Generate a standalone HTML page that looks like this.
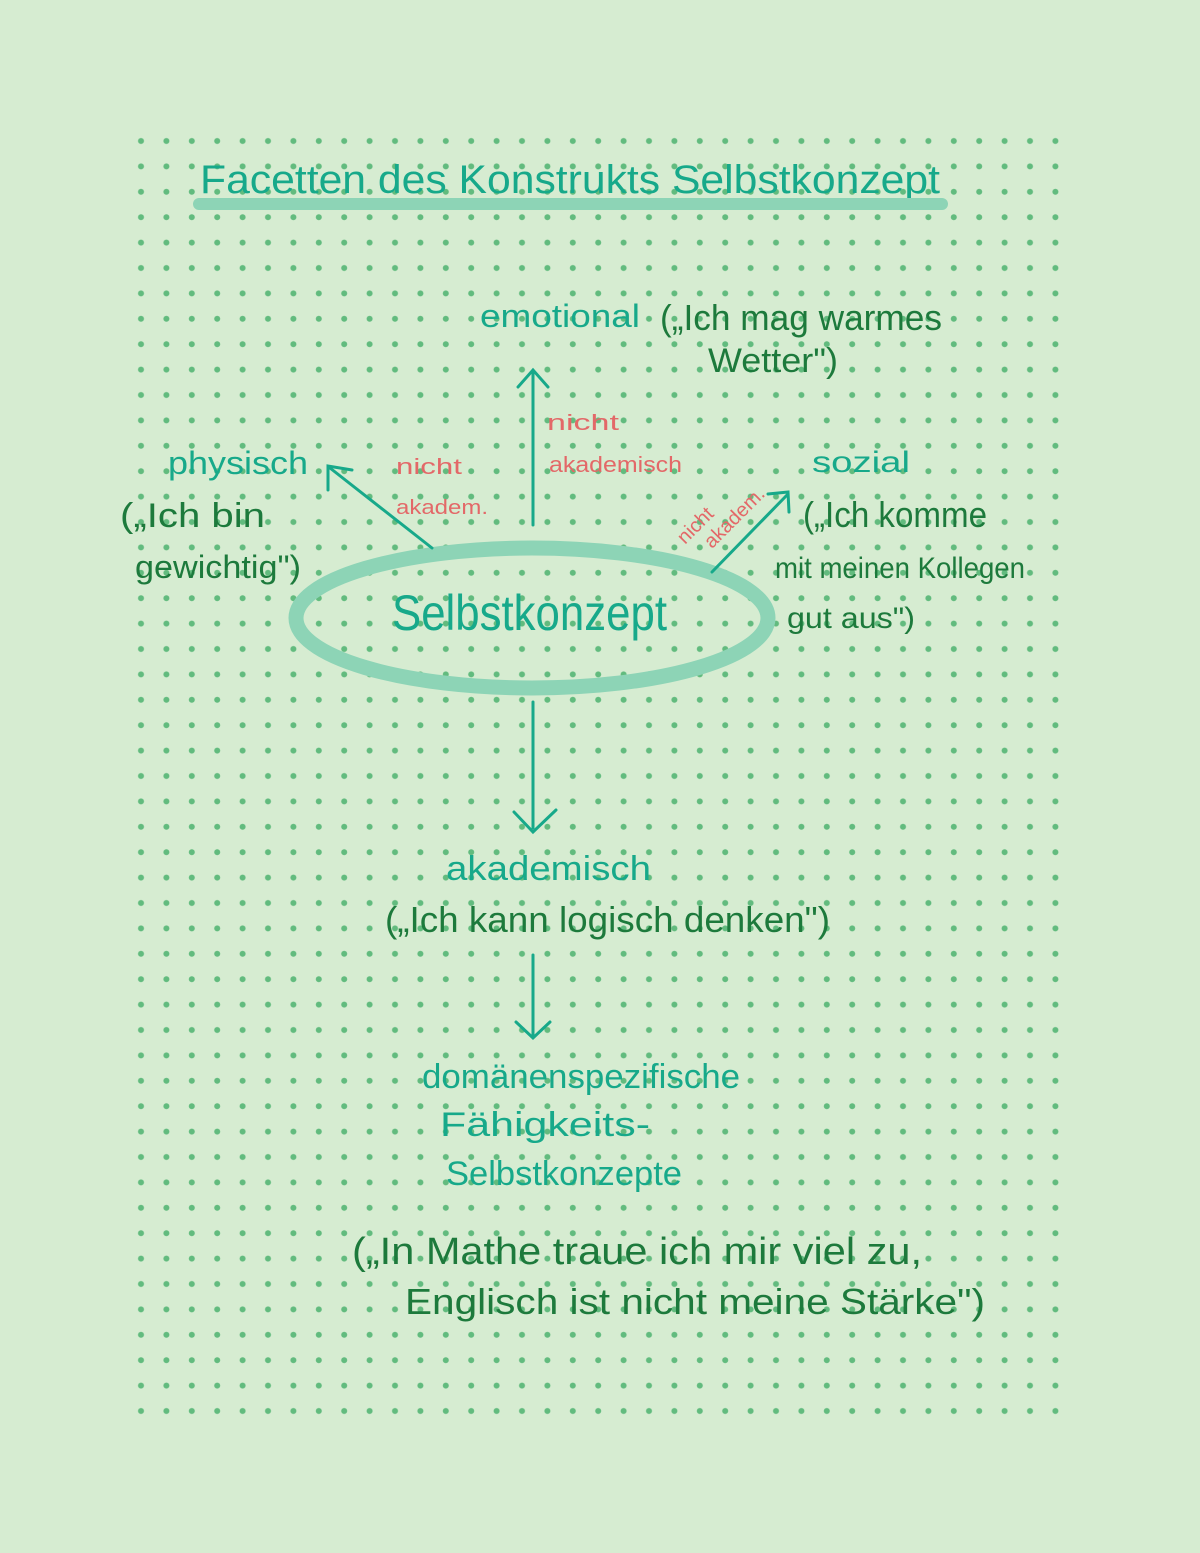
<!DOCTYPE html>
<html><head><meta charset="utf-8"><style>
html,body{margin:0;padding:0;background:#d6ecd1;}
svg{display:block}
text{font-family:"Liberation Sans",sans-serif;}
.t{fill:#17a98a}.g{fill:#1d7a3c}.r{fill:#e36868}
</style></head><body>
<svg width="1200" height="1553" viewBox="0 0 1200 1553" xmlns="http://www.w3.org/2000/svg">
<defs><pattern id="d" x="128.3" y="128.3" width="25.4" height="25.4" patternUnits="userSpaceOnUse"><circle cx="12.7" cy="12.7" r="3" fill="#62bb7e"/></pattern></defs>
<rect width="1200" height="1553" fill="#d6ecd1"/>
<rect x="128" y="128" width="940" height="1296" fill="url(#d)"/>
<!-- title -->
<text x="200" y="193" class="t" font-size="40" textLength="740" lengthAdjust="spacingAndGlyphs">Facetten des Konstrukts Selbstkonzept</text>
<rect x="193" y="198" width="755" height="12" rx="6" fill="#8dd4b6"/>
<!-- ellipse -->
<ellipse cx="532" cy="618" rx="236" ry="70" fill="none" stroke="#8dd4b6" stroke-width="15"/>
<text x="392" y="630" class="t" font-size="50" textLength="275" lengthAdjust="spacingAndGlyphs">Selbstkonzept</text>
<!-- arrows -->
<g stroke="#17a98a" stroke-width="3" fill="none" stroke-linecap="round">
<line x1="533" y1="525" x2="533" y2="372"/><polyline points="518,387 533,370 548,387"/>
<line x1="432" y1="548" x2="330" y2="468"/><polyline points="328,490 328,466 352,470"/>
<line x1="712" y1="572" x2="788" y2="494"/><polyline points="768,494 788,492 789,512"/>
<line x1="533" y1="702" x2="533" y2="828"/><polyline points="514,812 533,832 556,810"/>
<line x1="533" y1="955" x2="533" y2="1036"/><polyline points="516,1022 533,1038 550,1022"/>
</g>
<!-- emotional -->
<text x="480" y="327" class="t" font-size="32" textLength="160" lengthAdjust="spacingAndGlyphs">emotional</text>
<text x="660" y="330" class="g" font-size="36" textLength="282" lengthAdjust="spacingAndGlyphs">(„Ich mag warmes</text>
<text x="708" y="372" class="g" font-size="34" textLength="130" lengthAdjust="spacingAndGlyphs">Wetter")</text>
<!-- red labels -->
<text x="547" y="430" class="r" font-size="22" textLength="72" lengthAdjust="spacingAndGlyphs">nicht</text>
<text x="549" y="472" class="r" font-size="22" textLength="133" lengthAdjust="spacingAndGlyphs">akademisch</text>
<text x="396" y="474" class="r" font-size="22" textLength="66" lengthAdjust="spacingAndGlyphs">nicht</text>
<text x="396" y="514" class="r" font-size="20" textLength="92" lengthAdjust="spacingAndGlyphs">akadem.</text>
<g transform="translate(685,545) rotate(-45)"><text x="0" y="0" class="r" font-size="20">nicht</text><text x="16" y="22" class="r" font-size="20">akadem.</text></g>
<!-- physisch -->
<text x="168" y="474" class="t" font-size="32" textLength="140" lengthAdjust="spacingAndGlyphs">physisch</text>
<text x="120" y="527" class="g" font-size="34" textLength="145" lengthAdjust="spacingAndGlyphs">(„Ich bin</text>
<text x="135" y="578" class="g" font-size="32" textLength="166" lengthAdjust="spacingAndGlyphs">gewichtig")</text>
<!-- sozial -->
<text x="812" y="472" class="t" font-size="30" textLength="98" lengthAdjust="spacingAndGlyphs">sozial</text>
<text x="803" y="527" class="g" font-size="36" textLength="184" lengthAdjust="spacingAndGlyphs">(„Ich komme</text>
<text x="775" y="578" class="g" font-size="30" textLength="250" lengthAdjust="spacingAndGlyphs">mit meinen Kollegen</text>
<text x="787" y="628" class="g" font-size="30" textLength="128" lengthAdjust="spacingAndGlyphs">gut aus")</text>
<!-- akademisch -->
<text x="446" y="880" class="t" font-size="34" textLength="205" lengthAdjust="spacingAndGlyphs">akademisch</text>
<text x="385" y="932" class="g" font-size="36" textLength="445" lengthAdjust="spacingAndGlyphs">(„Ich kann logisch denken")</text>
<!-- domain -->
<text x="422" y="1088" class="t" font-size="34" textLength="318" lengthAdjust="spacingAndGlyphs">domänenspezifische</text>
<text x="440" y="1136" class="t" font-size="34" textLength="210" lengthAdjust="spacingAndGlyphs">Fähigkeits-</text>
<text x="446" y="1185" class="t" font-size="34" textLength="236" lengthAdjust="spacingAndGlyphs">Selbstkonzepte</text>
<text x="352" y="1264" class="g" font-size="38" textLength="570" lengthAdjust="spacingAndGlyphs">(„In Mathe traue ich mir viel zu,</text>
<text x="405" y="1314" class="g" font-size="36" textLength="580" lengthAdjust="spacingAndGlyphs">Englisch ist nicht meine Stärke")</text>
</svg>
</body></html>
